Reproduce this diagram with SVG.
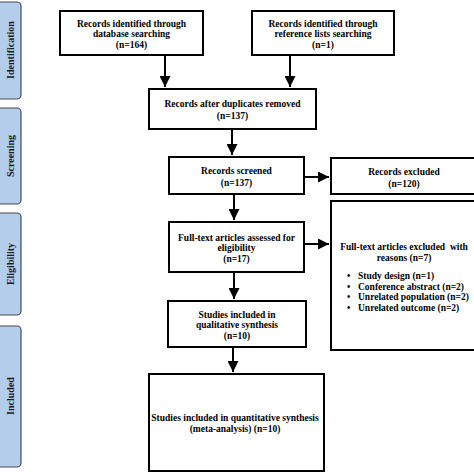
<svg xmlns="http://www.w3.org/2000/svg" width="474" height="474" viewBox="0 0 474 474">
<style>
.box{fill:#fff;stroke:#000;stroke-width:2}
.t{font-family:"Liberation Serif","Times New Roman",serif;font-weight:bold;font-size:9.5px;fill:#000}
.c{text-anchor:middle}
.tab{fill:#b4cdea;stroke:#4a4a4a;stroke-width:1.2}
.tt{font-family:"Liberation Serif","Times New Roman",serif;font-weight:bold;font-size:10px;fill:#1a1a1a;text-anchor:middle}
.ln{stroke:#000;stroke-width:2;fill:none}
</style>
<defs>
<marker id="ah" viewBox="0 0 10 10" refX="10" refY="5" markerWidth="5.5" markerHeight="5.5" markerUnits="strokeWidth" orient="auto">
<path d="M0,0 L10,5 L0,10 z" fill="#000"/>
</marker>
</defs>
<rect width="474" height="474" fill="#fff"/>
<g id="tab-identification"><rect class="tab" x="-10" y="2" width="31" height="97" rx="4"/><text class="tt" transform="translate(13.5,50) rotate(-90)">Identification</text></g>
<g id="tab-screening"><rect class="tab" x="-10" y="108" width="31" height="96" rx="4"/><text class="tt" transform="translate(13.5,156) rotate(-90)">Screening</text></g>
<g id="tab-eligibility"><rect class="tab" x="-10" y="213" width="31" height="102" rx="4"/><text class="tt" transform="translate(13.5,264) rotate(-90)">Eligibility</text></g>
<g id="tab-included"><rect class="tab" x="-10" y="326" width="31" height="141" rx="4"/><text class="tt" transform="translate(13.5,396) rotate(-90)">Included</text></g>

<g id="n1"><rect class="box" x="60" y="11" width="143" height="44"/>
<text class="t c" x="131.5" y="26.5">Records identified through</text>
<text class="t c" x="131.5" y="37">database searching</text>
<text class="t c" x="131.5" y="47.5">(n=164)</text></g>
<g id="n2"><rect class="box" x="252" y="11" width="142" height="44"/>
<text class="t c" x="323" y="26.5">Records identified through</text>
<text class="t c" x="323" y="37">reference lists searching</text>
<text class="t c" x="323" y="47.5">(n=1)</text></g>
<g id="n3"><rect class="box" x="149" y="89" width="167" height="40"/>
<text class="t c" x="232.5" y="106.5">Records after duplicates removed</text>
<text class="t c" x="232.5" y="118.5">(n=137)</text></g>
<g id="n4"><rect class="box" x="169" y="157" width="135" height="37"/>
<text class="t c" x="236.5" y="174">Records screened</text>
<text class="t c" x="236.5" y="185.5">(n=137)</text></g>
<g id="n5"><rect class="box" x="331" y="158" width="146" height="36"/>
<text class="t c" x="404" y="175">Records excluded</text>
<text class="t c" x="404" y="186.5">(n=120)</text></g>
<g id="n6"><rect class="box" x="169" y="222" width="135" height="50"/>
<text class="t c" x="236.5" y="240.5">Full-text articles assessed for</text>
<text class="t c" x="236.5" y="251">eligibility</text>
<text class="t c" x="236.5" y="261.5">(n=17)</text></g>
<g id="n7"><rect class="box" x="331" y="201" width="146" height="149"/>
<text class="t c" x="404" y="250" xml:space="preserve">Full-text articles excluded  with</text>
<text class="t c" x="404" y="261">reasons (n=7)</text>
<text class="t" x="347" y="279">•</text><text class="t" x="358" y="279">Study design (n=1)</text>
<text class="t" x="347" y="289.5">•</text><text class="t" x="358" y="289.5">Conference abstract (n=2)</text>
<text class="t" x="347" y="300">•</text><text class="t" x="358" y="300">Unrelated population (n=2)</text>
<text class="t" x="347" y="310.5">•</text><text class="t" x="358" y="310.5">Unrelated outcome (n=2)</text></g>
<g id="n8"><rect class="box" x="168" y="301" width="138" height="46"/>
<text class="t c" x="237" y="317.5">Studies included in</text>
<text class="t c" x="237" y="328">qualitative synthesis</text>
<text class="t c" x="237" y="338.5">(n=10)</text></g>
<g id="n9"><rect class="box" x="149" y="374" width="175" height="97"/>
<text class="t c" x="235" y="421">Studies included in quantitative synthesis</text>
<text class="t c" x="235" y="431.5">(meta-analysis) (n=10)</text></g>

<g id="connectors">
<line class="ln" x1="165" y1="55" x2="165" y2="87" marker-end="url(#ah)"/>
<line class="ln" x1="290" y1="55" x2="290" y2="87" marker-end="url(#ah)"/>
<line class="ln" x1="232" y1="129" x2="232" y2="155" marker-end="url(#ah)"/>
<line class="ln" x1="304" y1="177" x2="329" y2="177" marker-end="url(#ah)"/>
<line class="ln" x1="234" y1="194" x2="234" y2="220" marker-end="url(#ah)"/>
<line class="ln" x1="304" y1="244" x2="329" y2="244" marker-end="url(#ah)"/>
<line class="ln" x1="234" y1="272" x2="234" y2="299" marker-end="url(#ah)"/>
<line class="ln" x1="233" y1="347" x2="233" y2="372" marker-end="url(#ah)"/>
</g>
</svg>
